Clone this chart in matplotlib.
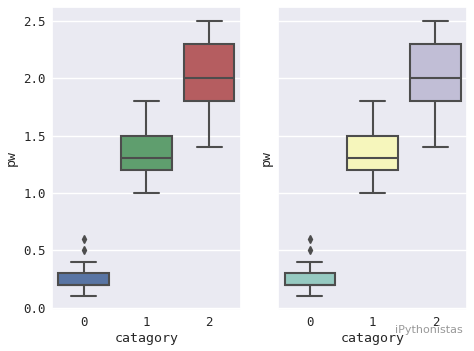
import matplotlib
matplotlib.use("Agg")
import matplotlib.pyplot as plt
import seaborn as sns
import pandas as pd

# iris petal width by species (catagory 0, 1, 2)
pw_cat0 = [0.2,0.2,0.2,0.2,0.2,0.4,0.3,0.2,0.2,0.1,0.2,0.2,0.1,0.1,0.2,0.4,0.4,0.3,0.3,0.3,
           0.2,0.4,0.2,0.5,0.2,0.2,0.4,0.2,0.2,0.2,0.2,0.4,0.1,0.2,0.2,0.2,0.2,0.1,0.2,0.2,
           0.3,0.3,0.2,0.6,0.4,0.3,0.2,0.2,0.2,0.2]
pw_cat1 = [1.4,1.5,1.5,1.3,1.5,1.3,1.6,1.0,1.3,1.4,1.0,1.5,1.0,1.4,1.3,1.4,1.5,1.0,1.5,1.1,
           1.8,1.3,1.5,1.2,1.3,1.4,1.4,1.7,1.5,1.0,1.1,1.0,1.2,1.6,1.5,1.6,1.5,1.3,1.3,1.3,
           1.2,1.4,1.2,1.0,1.3,1.2,1.3,1.3,1.1,1.3]
pw_cat2 = [2.5,1.9,2.1,1.8,2.2,2.1,1.7,1.8,1.8,2.5,2.0,1.9,2.1,2.0,2.4,2.3,1.8,2.2,2.3,1.5,
           2.3,2.0,2.0,1.8,2.1,1.8,1.8,1.8,2.1,1.6,1.9,2.0,2.2,1.5,1.4,2.3,2.4,1.8,1.8,2.1,
           2.4,2.3,1.9,2.3,2.5,2.3,1.9,2.0,2.3,1.8]
categories = [0, 1, 2]
ytick_values = [0.0, 0.5, 1.0, 1.5, 2.0, 2.5]

df = pd.DataFrame({
    "catagory": [0]*len(pw_cat0) + [1]*len(pw_cat1) + [2]*len(pw_cat2),
    "pw": pw_cat0 + pw_cat1 + pw_cat2,
})

sns.set_theme(style="darkgrid")
plt.rcParams['font.family'] = ['DejaVu Sans Mono', 'DejaVu Sans']

fig, axes = plt.subplots(1, 2, figsize=(4.74, 3.51), dpi=100, sharey=True)
fig.subplots_adjust(left=0.110, right=0.985, bottom=0.117, top=0.980, wspace=0.2)

flier = dict(marker="d", markersize=4, markerfacecolor="0.3", markeredgecolor="0.3")
deep = ["#4C72B0", "#55A868", "#C44E52"]
set3 = ["#8dd3c7", "#ffffb3", "#bebada"]

for ax, pal in zip(axes, [deep, set3]):
    sns.boxplot(data=df, x="catagory", y="pw", hue="catagory", palette=pal, legend=False,
                ax=ax, width=0.8, linewidth=1.5, linecolor="0.3", flierprops=flier,
                order=categories, hue_order=categories)
    ax.tick_params(labelsize=9, length=0, pad=4.5, labelcolor="0.15")
    ax.set_xlabel("catagory", fontsize=9.5, color="0.15", labelpad=2)
    ax.set_ylabel("pw", fontsize=9.5, color="0.15", labelpad=4)
    ax.set_xlim(-0.5, 2.5)

axes[1].yaxis.label.set_visible(True)
axes[0].set_ylim(-0.02, 2.62)
axes[0].set_yticks(ytick_values)

fig.text(0.905, 0.06, "iPythonistas", fontsize=8, color="0.6", ha="center", va="center",
         fontfamily="DejaVu Sans")

fig.savefig("out.png", dpi=100)
